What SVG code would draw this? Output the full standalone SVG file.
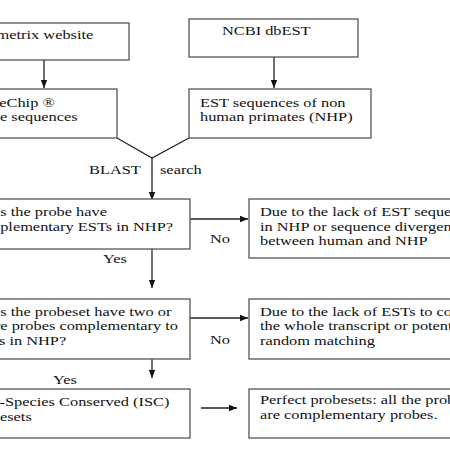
<svg xmlns="http://www.w3.org/2000/svg" width="450" height="450" viewBox="0 0 450 450">
<defs>
<style>
.box{fill:#fff;stroke:#555;stroke-width:1.3}
.t{font-family:"Liberation Serif","Times New Roman",serif;font-size:13px;fill:#111}
.ln{fill:none;stroke:#222;stroke-width:1.3}
</style>
<marker id="ah" viewBox="0 0 8 8" refX="8" refY="4" markerWidth="8" markerHeight="8" markerUnits="userSpaceOnUse" orient="auto">
<path d="M0,0.8 L8,4 L0,7.2 Z" fill="#111"/>
</marker>
</defs>
<rect width="450" height="450" fill="#fff"/>
<g id="connectors">
<line class="ln" x1="44" y1="60" x2="44" y2="88" marker-end="url(#ah)"/>
<line class="ln" x1="274" y1="57" x2="274" y2="88" marker-end="url(#ah)"/>
<polyline class="ln" points="117,138 152,158 189,138"/>
<line class="ln" x1="152" y1="158" x2="152" y2="200" marker-end="url(#ah)"/>
<line class="ln" x1="190" y1="219" x2="248" y2="219" marker-end="url(#ah)"/>
<line class="ln" x1="152" y1="249" x2="152" y2="288" marker-end="url(#ah)"/>
<line class="ln" x1="190" y1="318" x2="248" y2="318" marker-end="url(#ah)"/>
<line class="ln" x1="152" y1="359" x2="152" y2="378" marker-end="url(#ah)"/>
<line class="ln" x1="201" y1="408" x2="237" y2="408" marker-end="url(#ah)"/>
<text class="t" transform="translate(89,174) scale(1.26,1)">BLAST</text>
<text class="t" transform="translate(160,174) scale(1.26,1)">search</text>
<text class="t" transform="translate(210,243) scale(1.26,1)">No</text>
<text class="t" transform="translate(103,263) scale(1.26,1)">Yes</text>
<text class="t" transform="translate(210,344) scale(1.26,1)">No</text>
<text class="t" transform="translate(53,384) scale(1.26,1)">Yes</text>
</g>
<g id="affymetrix">
<rect class="box" x="-20" y="23" width="149" height="37"/>
<text class="t" transform="translate(-34,39) scale(1.26,1)">Affymetrix website</text>
</g>
<g id="ncbi">
<rect class="box" x="189" y="19" width="169" height="38"/>
<text class="t" transform="translate(222,35) scale(1.26,1)">NCBI dbEST</text>
</g>
<g id="genechip">
<rect class="box" x="-20" y="89" width="137" height="49"/>
<text class="t" transform="translate(-28,106.5) scale(1.26,1)">GeneChip ®</text>
<text class="t" transform="translate(-30,121) scale(1.26,1)">probe sequences</text>
</g>
<g id="est">
<rect class="box" x="189" y="89" width="182" height="49"/>
<text class="t" transform="translate(200,106.5) scale(1.26,1)">EST sequences of non</text>
<text class="t" transform="translate(200,121) scale(1.26,1)">human primates (NHP)</text>
</g>
<g id="q1">
<rect class="box" x="-20" y="199" width="210" height="50"/>
<text class="t" transform="translate(-27,216) scale(1.26,1)">Does the probe have</text>
<text class="t" transform="translate(-28,230.5) scale(1.26,1)">complementary ESTs in NHP?</text>
</g>
<g id="no1">
<rect class="box" x="249" y="199" width="220" height="59"/>
<text class="t" transform="translate(260,216) scale(1.26,1)">Due to the lack of EST sequences</text>
<text class="t" transform="translate(260,230.5) scale(1.26,1)">in NHP or sequence divergence</text>
<text class="t" transform="translate(260,245) scale(1.26,1)">between human and NHP</text>
</g>
<g id="q2">
<rect class="box" x="-20" y="299" width="210" height="60"/>
<text class="t" transform="translate(-27,315.5) scale(1.26,1)">Does the probeset have two or</text>
<text class="t" transform="translate(-26,330) scale(1.26,1)">more probes complementary to</text>
<text class="t" transform="translate(-29,344.5) scale(1.26,1)">ESTs in NHP?</text>
</g>
<g id="no2">
<rect class="box" x="249" y="299" width="220" height="60"/>
<text class="t" transform="translate(260,315.5) scale(1.26,1)">Due to the lack of ESTs to cover</text>
<text class="t" transform="translate(260,330) scale(1.26,1)">the whole transcript or potential</text>
<text class="t" transform="translate(260,344.5) scale(1.26,1)">random matching</text>
</g>
<g id="isc">
<rect class="box" x="-20" y="389" width="210" height="49"/>
<text class="t" transform="translate(-31,406) scale(1.26,1)">Inter-Species Conserved (ISC)</text>
<text class="t" transform="translate(-30,420.5) scale(1.26,1)">probesets</text>
</g>
<g id="perfect">
<rect class="box" x="249" y="389" width="220" height="49"/>
<text class="t" transform="translate(260,404) scale(1.26,1)">Perfect probesets: all the probes</text>
<text class="t" transform="translate(260,419) scale(1.26,1)">are complementary probes.</text>
</g>
</svg>
